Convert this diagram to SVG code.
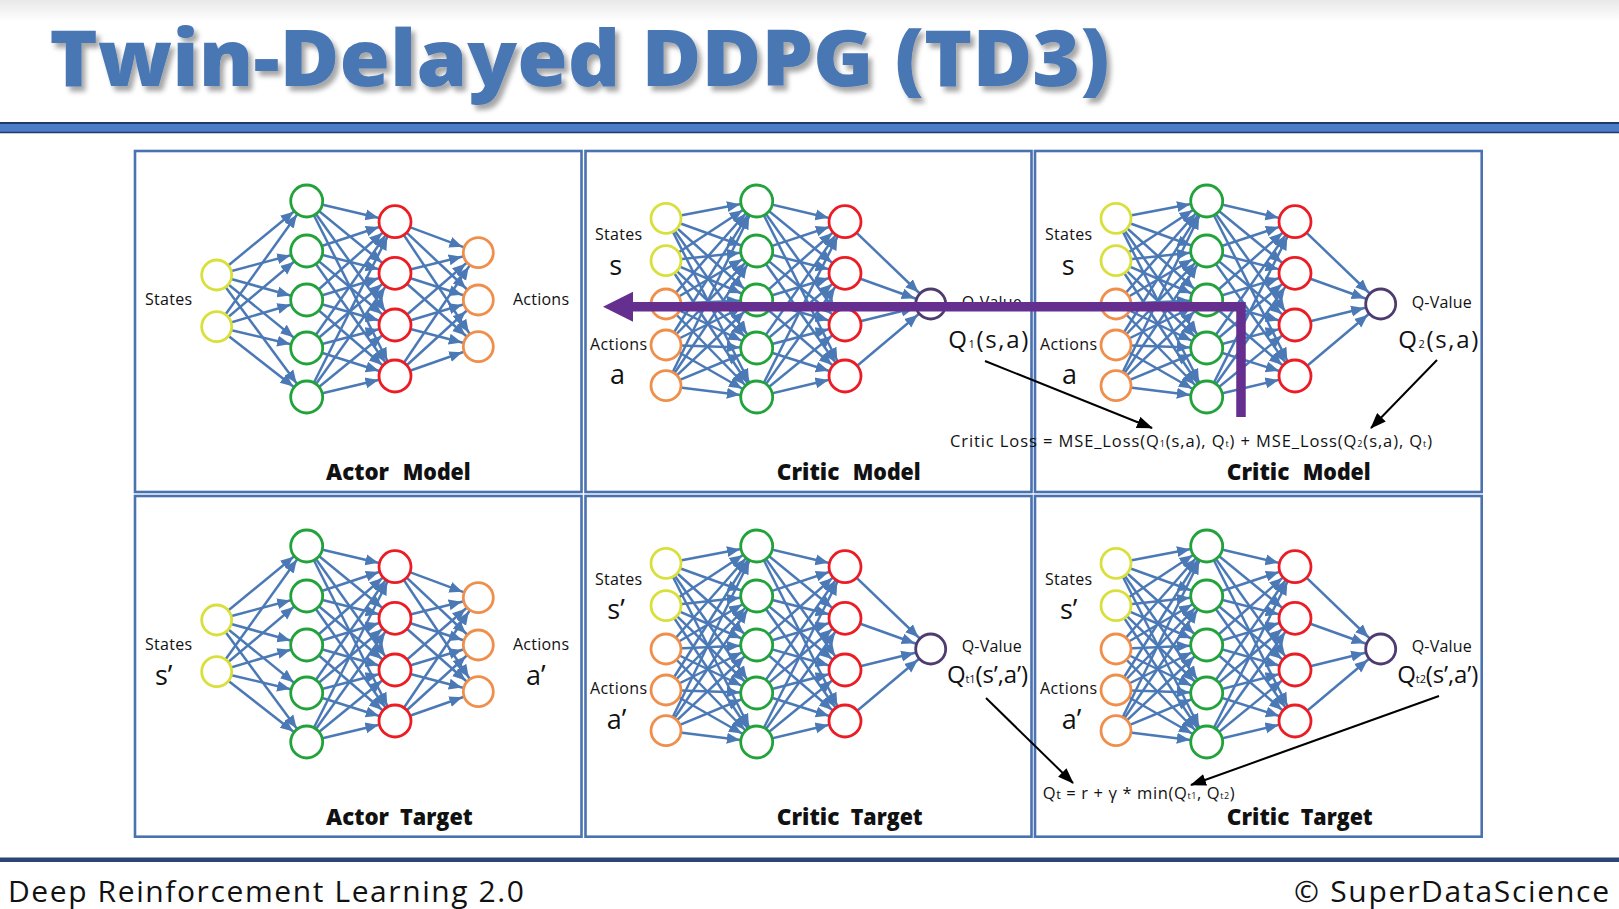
<svg xmlns="http://www.w3.org/2000/svg" xmlns:xlink="http://www.w3.org/1999/xlink" width="1619" height="909" viewBox="0 0 1619 909">
<style>
.box{fill:#fff;stroke:#4a72b0;stroke-width:2.6}
.net line{stroke:#4b79b6;stroke-width:2.5;marker-end:url(#ah)}
.ny{fill:#fff;stroke:#d9e03c;stroke-width:2.8}
.ng{fill:#fff;stroke:#22a23a;stroke-width:2.8}
.nr{fill:#fff;stroke:#ec1c24;stroke-width:2.8}
.no{fill:#fff;stroke:#ef8f4b;stroke-width:2.8}
.np{fill:#fff;stroke:#4e3b6f;stroke-width:2.8}
.lb{font-family:"Open Sans","Liberation Sans",sans-serif;font-size:16px;fill:#111}
.big{font-family:"Open Sans","Liberation Sans",sans-serif;font-size:27px;fill:#111}
.q{font-family:"Open Sans","Liberation Sans",sans-serif;font-size:24px;fill:#111}
.sub{font-size:11px}
.tsub{font-size:9px}
.hd{font-family:"Open Sans","Liberation Sans",sans-serif;font-size:22px;font-weight:800;fill:#111}
.fm{font-family:"Open Sans","Liberation Sans",sans-serif;font-size:16.5px;fill:#111}
.ft{font-family:"Open Sans","Liberation Sans",sans-serif;font-size:30px;fill:#111}
.blk{stroke:#000;stroke-width:2;fill:none;marker-end:url(#bk)}
</style>
<defs>
<linearGradient id="topg" x1="0" y1="0" x2="0" y2="1">
<stop offset="0" stop-color="#e9e9e9"/><stop offset="1" stop-color="#ffffff"/>
</linearGradient>
<filter id="sh" x="-5%" y="-20%" width="115%" height="150%">
<feDropShadow dx="4" dy="5" stdDeviation="2.5" flood-color="#000" flood-opacity="0.35"/>
</filter>
<marker id="ah" markerUnits="userSpaceOnUse" markerWidth="44" markerHeight="14" viewBox="0 0 44 14" refX="30" refY="7" orient="auto">
<path d="M0,1.5 L13,7 L0,12.5 z" fill="#4b79b6"/>
</marker>
<marker id="bk" markerUnits="userSpaceOnUse" markerWidth="16" markerHeight="12" viewBox="0 0 16 12" refX="15" refY="6" orient="auto">
<path d="M0,0 L16,6 L0,12 z" fill="#000"/>
</marker>
<marker id="pa" markerUnits="userSpaceOnUse" markerWidth="32" markerHeight="32" viewBox="0 0 32 32" refX="0" refY="16" orient="auto">
<path d="M0,1 L30,16 L0,31 z" fill="#652f8f"/>
</marker>
<g id="actorNet">
<g class="net">
<line x1="216.7" y1="275" x2="306.7" y2="201"/><line x1="216.7" y1="275" x2="306.7" y2="251"/><line x1="216.7" y1="275" x2="306.7" y2="300"/><line x1="216.7" y1="275" x2="306.7" y2="348"/><line x1="216.7" y1="275" x2="306.7" y2="397"/>
<line x1="216.7" y1="326.7" x2="306.7" y2="201"/><line x1="216.7" y1="326.7" x2="306.7" y2="251"/><line x1="216.7" y1="326.7" x2="306.7" y2="300"/><line x1="216.7" y1="326.7" x2="306.7" y2="348"/><line x1="216.7" y1="326.7" x2="306.7" y2="397"/>
<line x1="306.7" y1="201" x2="395" y2="221.7"/><line x1="306.7" y1="201" x2="395" y2="273.3"/><line x1="306.7" y1="201" x2="395" y2="325"/><line x1="306.7" y1="201" x2="395" y2="376"/>
<line x1="306.7" y1="251" x2="395" y2="221.7"/><line x1="306.7" y1="251" x2="395" y2="273.3"/><line x1="306.7" y1="251" x2="395" y2="325"/><line x1="306.7" y1="251" x2="395" y2="376"/>
<line x1="306.7" y1="300" x2="395" y2="221.7"/><line x1="306.7" y1="300" x2="395" y2="273.3"/><line x1="306.7" y1="300" x2="395" y2="325"/><line x1="306.7" y1="300" x2="395" y2="376"/>
<line x1="306.7" y1="348" x2="395" y2="221.7"/><line x1="306.7" y1="348" x2="395" y2="273.3"/><line x1="306.7" y1="348" x2="395" y2="325"/><line x1="306.7" y1="348" x2="395" y2="376"/>
<line x1="306.7" y1="397" x2="395" y2="221.7"/><line x1="306.7" y1="397" x2="395" y2="273.3"/><line x1="306.7" y1="397" x2="395" y2="325"/><line x1="306.7" y1="397" x2="395" y2="376"/>
<line x1="395" y1="221.7" x2="478.3" y2="252.7"/><line x1="395" y1="221.7" x2="478.3" y2="300"/><line x1="395" y1="221.7" x2="478.3" y2="346.7"/>
<line x1="395" y1="273.3" x2="478.3" y2="252.7"/><line x1="395" y1="273.3" x2="478.3" y2="300"/><line x1="395" y1="273.3" x2="478.3" y2="346.7"/>
<line x1="395" y1="325" x2="478.3" y2="252.7"/><line x1="395" y1="325" x2="478.3" y2="300"/><line x1="395" y1="325" x2="478.3" y2="346.7"/>
<line x1="395" y1="376" x2="478.3" y2="252.7"/><line x1="395" y1="376" x2="478.3" y2="300"/><line x1="395" y1="376" x2="478.3" y2="346.7"/>
</g>
<circle class="ny" cx="216.7" cy="275" r="15"/><circle class="ny" cx="216.7" cy="326.7" r="15"/>
<circle class="ng" cx="306.7" cy="201" r="16"/><circle class="ng" cx="306.7" cy="251" r="16"/><circle class="ng" cx="306.7" cy="300" r="16"/><circle class="ng" cx="306.7" cy="348" r="16"/><circle class="ng" cx="306.7" cy="397" r="16"/>
<circle class="nr" cx="395" cy="221.7" r="16"/><circle class="nr" cx="395" cy="273.3" r="16"/><circle class="nr" cx="395" cy="325" r="16"/><circle class="nr" cx="395" cy="376" r="16"/>
<circle class="no" cx="478.3" cy="252.7" r="15"/><circle class="no" cx="478.3" cy="300" r="15"/><circle class="no" cx="478.3" cy="346.7" r="15"/>
</g>
<g id="criticNet">
<g class="net">
<line x1="666" y1="218.3" x2="756.7" y2="201"/><line x1="666" y1="218.3" x2="756.7" y2="251"/><line x1="666" y1="218.3" x2="756.7" y2="300"/><line x1="666" y1="218.3" x2="756.7" y2="348"/><line x1="666" y1="218.3" x2="756.7" y2="397"/>
<line x1="666" y1="260.7" x2="756.7" y2="201"/><line x1="666" y1="260.7" x2="756.7" y2="251"/><line x1="666" y1="260.7" x2="756.7" y2="300"/><line x1="666" y1="260.7" x2="756.7" y2="348"/><line x1="666" y1="260.7" x2="756.7" y2="397"/>
<line x1="666" y1="304" x2="756.7" y2="201"/><line x1="666" y1="304" x2="756.7" y2="251"/><line x1="666" y1="304" x2="756.7" y2="300"/><line x1="666" y1="304" x2="756.7" y2="348"/><line x1="666" y1="304" x2="756.7" y2="397"/>
<line x1="666" y1="345" x2="756.7" y2="201"/><line x1="666" y1="345" x2="756.7" y2="251"/><line x1="666" y1="345" x2="756.7" y2="300"/><line x1="666" y1="345" x2="756.7" y2="348"/><line x1="666" y1="345" x2="756.7" y2="397"/>
<line x1="666" y1="385.7" x2="756.7" y2="201"/><line x1="666" y1="385.7" x2="756.7" y2="251"/><line x1="666" y1="385.7" x2="756.7" y2="300"/><line x1="666" y1="385.7" x2="756.7" y2="348"/><line x1="666" y1="385.7" x2="756.7" y2="397"/>
<line x1="756.7" y1="201" x2="845" y2="221.7"/><line x1="756.7" y1="201" x2="845" y2="273.3"/><line x1="756.7" y1="201" x2="845" y2="325"/><line x1="756.7" y1="201" x2="845" y2="376"/>
<line x1="756.7" y1="251" x2="845" y2="221.7"/><line x1="756.7" y1="251" x2="845" y2="273.3"/><line x1="756.7" y1="251" x2="845" y2="325"/><line x1="756.7" y1="251" x2="845" y2="376"/>
<line x1="756.7" y1="300" x2="845" y2="221.7"/><line x1="756.7" y1="300" x2="845" y2="273.3"/><line x1="756.7" y1="300" x2="845" y2="325"/><line x1="756.7" y1="300" x2="845" y2="376"/>
<line x1="756.7" y1="348" x2="845" y2="221.7"/><line x1="756.7" y1="348" x2="845" y2="273.3"/><line x1="756.7" y1="348" x2="845" y2="325"/><line x1="756.7" y1="348" x2="845" y2="376"/>
<line x1="756.7" y1="397" x2="845" y2="221.7"/><line x1="756.7" y1="397" x2="845" y2="273.3"/><line x1="756.7" y1="397" x2="845" y2="325"/><line x1="756.7" y1="397" x2="845" y2="376"/>
<line x1="845" y1="221.7" x2="930.7" y2="304"/><line x1="845" y1="273.3" x2="930.7" y2="304"/><line x1="845" y1="325" x2="930.7" y2="304"/><line x1="845" y1="376" x2="930.7" y2="304"/>
</g>
<circle class="ny" cx="666" cy="218.3" r="15"/><circle class="ny" cx="666" cy="260.7" r="15"/><circle class="no" cx="666" cy="304" r="15"/><circle class="no" cx="666" cy="345" r="15"/><circle class="no" cx="666" cy="385.7" r="15"/>
<circle class="ng" cx="756.7" cy="201" r="16"/><circle class="ng" cx="756.7" cy="251" r="16"/><circle class="ng" cx="756.7" cy="300" r="16"/><circle class="ng" cx="756.7" cy="348" r="16"/><circle class="ng" cx="756.7" cy="397" r="16"/>
<circle class="nr" cx="845" cy="221.7" r="16"/><circle class="nr" cx="845" cy="273.3" r="16"/><circle class="nr" cx="845" cy="325" r="16"/><circle class="nr" cx="845" cy="376" r="16"/>
<circle class="np" cx="930.7" cy="304" r="15"/>
</g>
</defs>

<rect x="0" y="0" width="1619" height="909" fill="#fff"/>
<rect x="0" y="0" width="1619" height="22" fill="url(#topg)"/>

<g id="header">
<text x="49.6" y="86" textLength="1060" lengthAdjust="spacingAndGlyphs" filter="url(#sh)" style="font-family:'Open Sans','Liberation Sans',sans-serif;font-size:78px;font-weight:800;fill:#4a77b4">Twin-Delayed DDPG (TD3)</text>
<rect x="0" y="122" width="1619" height="11" fill="#4a7cc8"/>
<line x1="0" y1="123" x2="1619" y2="123" stroke="#1f3a66" stroke-width="2"/>
<line x1="0" y1="132.5" x2="1619" y2="132.5" stroke="#1f3a66" stroke-width="1.5"/>
</g>

<g id="actor-model">
<rect class="box" x="135" y="151" width="446.5" height="341"/>
<use href="#actorNet"/>
<text class="lb" x="145" y="305" textLength="47">States</text>
<text class="lb" x="513" y="305" textLength="56">Actions</text>
<text class="hd" y="480"><tspan x="326" textLength="63" lengthAdjust="spacingAndGlyphs">Actor</tspan> <tspan x="402.7" textLength="68" lengthAdjust="spacingAndGlyphs">Model</tspan></text>
</g>

<g id="critic-model-1">
<rect class="box" x="585.5" y="151" width="446" height="341"/>
<use href="#criticNet"/>
<text class="lb" x="595" y="240" textLength="47">States</text>
<text class="big" x="609.3" y="275">s</text>
<text class="lb" x="590" y="350" textLength="57">Actions</text>
<text class="big" x="610" y="384">a</text>
<text class="lb" x="961.7" y="308" textLength="60">Q-Value</text>
<text class="q" x="948.3" y="348" textLength="80">Q<tspan class="sub">1</tspan>(s,a)</text>
<text class="hd" y="480"><tspan x="776.7" textLength="62.7" lengthAdjust="spacingAndGlyphs">Critic</tspan> <tspan x="852.7" textLength="68" lengthAdjust="spacingAndGlyphs">Model</tspan></text>
</g>

<g id="critic-model-2">
<rect class="box" x="1035" y="151" width="446.7" height="341"/>
<use href="#criticNet" x="450"/>
<text class="lb" x="1045" y="240" textLength="47">States</text>
<text class="big" x="1061.7" y="275">s</text>
<text class="lb" x="1040" y="350" textLength="57">Actions</text>
<text class="big" x="1062" y="384">a</text>
<text class="lb" x="1411.7" y="308" textLength="60">Q-Value</text>
<text class="q" x="1398.3" y="348" textLength="80">Q<tspan class="sub">2</tspan>(s,a)</text>
<text class="hd" y="480"><tspan x="1226.7" textLength="62.7" lengthAdjust="spacingAndGlyphs">Critic</tspan> <tspan x="1302.7" textLength="68" lengthAdjust="spacingAndGlyphs">Model</tspan></text>
</g>

<g id="actor-target">
<rect class="box" x="135" y="496" width="446.5" height="340.7"/>
<use href="#actorNet" y="345"/>
<text class="lb" x="145" y="650" textLength="47">States</text>
<text class="big" x="155" y="685">s’</text>
<text class="lb" x="513" y="650" textLength="56">Actions</text>
<text class="big" x="526" y="685">a’</text>
<text class="hd" y="825"><tspan x="326" textLength="63" lengthAdjust="spacingAndGlyphs">Actor</tspan> <tspan x="400" textLength="72.7" lengthAdjust="spacingAndGlyphs">Target</tspan></text>
</g>

<g id="critic-target-1">
<rect class="box" x="585.5" y="496" width="446" height="340.7"/>
<use href="#criticNet" y="345"/>
<text class="lb" x="595" y="585" textLength="47">States</text>
<text class="big" x="607.3" y="619">s’</text>
<text class="lb" x="590" y="694" textLength="57">Actions</text>
<text class="big" x="606.7" y="729">a’</text>
<text class="lb" x="961.7" y="652" textLength="60">Q-Value</text>
<text class="q" x="947" y="683" textLength="81">Q<tspan class="sub">t1</tspan>(s’,a’)</text>
<text class="hd" y="825"><tspan x="776.7" textLength="62.7" lengthAdjust="spacingAndGlyphs">Critic</tspan> <tspan x="850.7" textLength="72" lengthAdjust="spacingAndGlyphs">Target</tspan></text>
</g>

<g id="critic-target-2">
<rect class="box" x="1035" y="496" width="446.7" height="340.7"/>
<use href="#criticNet" x="450" y="345"/>
<text class="lb" x="1045" y="585" textLength="47">States</text>
<text class="big" x="1060" y="619">s’</text>
<text class="lb" x="1040" y="694" textLength="57">Actions</text>
<text class="big" x="1061.7" y="729">a’</text>
<text class="lb" x="1411.7" y="652" textLength="60">Q-Value</text>
<text class="q" x="1397.3" y="683" textLength="81">Q<tspan class="sub">t2</tspan>(s’,a’)</text>
<text class="hd" y="825"><tspan x="1226.7" textLength="62.7" lengthAdjust="spacingAndGlyphs">Critic</tspan> <tspan x="1300.7" textLength="72" lengthAdjust="spacingAndGlyphs">Target</tspan></text>
</g>

<g id="critic-loss">
<text class="fm" x="950" y="447" textLength="482">Critic Loss = MSE_Loss(Q<tspan class="tsub">1</tspan>(s,a), Q<tspan class="tsub">t</tspan>) + MSE_Loss(Q<tspan class="tsub">2</tspan>(s,a), Q<tspan class="tsub">t</tspan>)</text>
</g>
<g id="target-formula">
<text class="fm" x="1042.7" y="799" textLength="192">Q<tspan style="font-size:13px">t</tspan> = r + γ * min(Q<tspan class="tsub">t1</tspan>, Q<tspan class="tsub">t2</tspan>)</text>
</g>

<g id="connectors">
<path d="M1241 417 V306.7 H633" fill="none" stroke="#652f8f" stroke-width="9.5" stroke-linejoin="miter" marker-end="url(#pa)"/>
<line class="blk" x1="985" y1="361" x2="1152" y2="428"/>
<line class="blk" x1="1437" y1="360" x2="1371" y2="428"/>
<line class="blk" x1="986" y1="698" x2="1073" y2="783"/>
<line class="blk" x1="1439" y1="696" x2="1191" y2="785"/>
</g>

<g id="footer">
<rect x="0" y="857.5" width="1619" height="4.5" fill="#2a4674"/>
<text class="ft" x="8" y="902" textLength="516">Deep Reinforcement Learning 2.0</text>
<text class="ft" x="1294" y="902" textLength="315">© SuperDataScience</text>
</g>
</svg>
